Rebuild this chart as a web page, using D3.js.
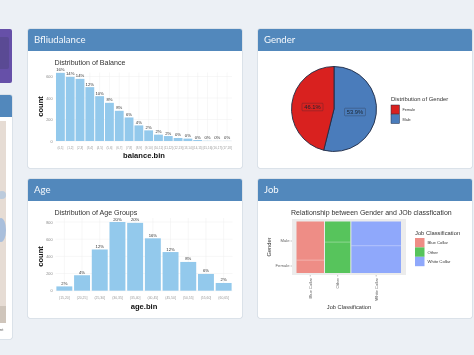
<!DOCTYPE html>
<html>
<head>
<meta charset="utf-8">
<script src="https://cdn.jsdelivr.net/npm/d3@7"></script>
<style>
    html, body { margin: 0; padding: 0; background: #ecf0f5; overflow: hidden; }
    svg { display: block; filter: blur(0.35px); }
    text { font-family: "Liberation Sans", sans-serif; }
    .panel-title { font-family: Lato, sans-serif; fill: #f4f8fc; font-size: 9.6px; }
    .grid line { stroke: #eeeeee; stroke-width: 0.5; }
</style>
</head>
<body>
<svg id="page" width="474" height="355"></svg>
<script>
var width = 474,
    height = 355;

// Balance chart
const balance_bins = ["(0,1]", "(1,2]", "(2,3]", "(3,4]", "(4,5]", "(5,6]", "(6,7]", "(7,8]", "(8,9]", "(9,10]", "(10,11]", "(11,12]", "(12,13]", "(13,14]", "(14,15]", "(15,16]", "(16,17]", "(17,18]"];
const balance_counts = [634, 597, 578, 501, 417, 355, 281, 219, 145, 99, 59, 46, 28, 22, 9, 2, 1, 1];
const balance_labels = ["16%", "14%", "14%", "12%", "10%", "8%", "8%", "6%", "4%", "2%", "2%", "2%", "0%", "0%", "0%", "0%", "0%", "0%"];
const balance_ticks = [0, 200, 400, 600];

// Age chart
const age_bins = ["(15,20]", "(20,25]", "(25,30]", "(30,35]", "(35,40]", "(40,45]", "(45,50]", "(50,55]", "(55,60]", "(60,65]"];
const age_counts = [50, 180, 480, 800, 790, 610, 450, 335, 195, 90];
const age_labels = ["2%", "4%", "12%", "20%", "20%", "16%", "12%", "8%", "6%", "2%"];
const age_ticks = [0, 200, 400, 600, 800];

// Gender pie
const gender_names = ["Female", "Male"];
const gender_shares = [46.1, 53.9];

// Job mosaic
const job_names = ["Blue Collar", "Other", "White Collar"];
const job_shares = [27, 25, 48];
const job_female = [0.25, 0.6, 0.53];
const mosaic_genders = ["Female", "Male"];

const svg = d3.select("#page");

function drawPanel(x, y, w, h, title) {
    const g = svg.append("g");
    g.append("rect").attr("x", x - 0.5).attr("y", y - 0.5).attr("width", w + 1).attr("height", h + 1)
        .attr("rx", 2).attr("fill", "#c9d3dd");
    g.append("rect").attr("x", x).attr("y", y).attr("width", w).attr("height", h)
        .attr("rx", 2).attr("fill", "#ffffff");
    g.append("path")
        .attr("d", `M${x},${y + 22}V${y + 2}Q${x},${y} ${x + 2},${y}H${x + w - 2}Q${x + w},${y} ${x + w},${y + 2}V${y + 22}Z`)
        .attr("fill", "#5288bc");
    if (title) {
        g.append("text").attr("class", "panel-title").attr("x", x + 6).attr("y", y + 14).text(title);
    }
}

// Sidebar pieces cut off by the left edge
svg.append("rect").attr("x", -4).attr("y", 29).attr("width", 16).attr("height", 54).attr("rx", 2).attr("fill", "#6650a8");
svg.append("rect").attr("x", -4).attr("y", 37).attr("width", 13).attr("height", 32).attr("rx", 2).attr("fill", "#5a4a94");
drawPanel(-4, 95, 16, 244, "");
svg.append("rect").attr("x", -4).attr("y", 121).attr("width", 10).attr("height", 202).attr("fill", "#e6dcd4");
svg.append("ellipse").attr("cx", 1).attr("cy", 230).attr("rx", 5).attr("ry", 12).attr("fill", "#a9bfdc");
svg.append("ellipse").attr("cx", 2).attr("cy", 195).attr("rx", 4).attr("ry", 4).attr("fill", "#bccbdc");
svg.append("rect").attr("x", -4).attr("y", 306).attr("width", 10).attr("height", 17).attr("fill", "#cfc5bb");
svg.append("text").attr("x", 0).attr("y", 331).attr("font-size", 4).attr("fill", "#555555").text("nt");

drawPanel(28, 29, 214, 139, "Bfliudalance");
drawPanel(258, 29, 214, 139, "Gender");
drawPanel(28, 179, 214, 139, "Age");
drawPanel(258, 179, 214, 139, "Job");

function drawHistogram(cfg) {
    const x = d3.scaleBand().domain(cfg.bins).range([cfg.left, cfg.right]).paddingInner(0.1).paddingOuter(0.05);
    const y = d3.scaleLinear().domain(cfg.domain).range([cfg.bottom, cfg.top]);
    const g = svg.append("g");

    const grid = g.append("g").attr("class", "grid");
    grid.selectAll(".h").data(cfg.ticks).join("line").attr("class", "h")
        .attr("x1", cfg.left).attr("x2", cfg.right)
        .attr("y1", function (d) { return y(d); }).attr("y2", function (d) { return y(d); });
    grid.selectAll(".v").data(cfg.bins).join("line").attr("class", "v")
        .attr("x1", function (d) { return x(d) + x.bandwidth() / 2; })
        .attr("x2", function (d) { return x(d) + x.bandwidth() / 2; })
        .attr("y1", cfg.top - 4).attr("y2", cfg.bottom);

    g.selectAll("rect").data(cfg.counts).join("rect")
        .attr("x", function (d, i) { return x(cfg.bins[i]); })
        .attr("y", function (d) { return y(d); })
        .attr("width", x.bandwidth())
        .attr("height", function (d) { return y(0) - y(d); })
        .attr("fill", "#93c9ec");

    g.selectAll(".pct").data(cfg.counts).join("text").attr("class", "pct")
        .attr("x", function (d, i) { return x(cfg.bins[i]) + x.bandwidth() / 2; })
        .attr("y", function (d) { return y(d) - 1.5; })
        .attr("text-anchor", "middle").attr("font-size", 4.2).attr("fill", "#333333")
        .text(function (d, i) { return cfg.labels[i]; });

    const axisY = d3.axisLeft(y).tickValues(cfg.ticks).tickSize(0).tickPadding(3);
    const ay = g.append("g").attr("transform", `translate(${cfg.left},0)`).call(axisY);
    ay.select(".domain").remove();
    ay.selectAll("text").attr("font-size", 3.8).attr("fill", "#888888").attr("font-family", "Liberation Sans");

    const axisX = d3.axisBottom(x).tickSize(0).tickPadding(cfg.xPad);
    const ax = g.append("g").attr("transform", `translate(0,${cfg.bottom})`).call(axisX);
    ax.select(".domain").remove();
    ax.selectAll("text").attr("font-size", cfg.xSize).attr("fill", "#999999").attr("font-family", "Liberation Sans");

    g.append("text").attr("x", cfg.titleX).attr("y", cfg.titleY).attr("font-size", 7.1).attr("fill", "#333333").text(cfg.title);
    g.append("text").attr("x", cfg.xLabelX).attr("y", cfg.xLabelY).attr("text-anchor", "middle")
        .attr("font-size", 7.6).attr("font-weight", "bold").attr("fill", "#111111").text(cfg.xLabel);
    g.append("text").attr("transform", `translate(43,${cfg.yLabelY}) rotate(-90)`).attr("text-anchor", "middle")
        .attr("font-size", 7.6).attr("font-weight", "bold").attr("fill", "#111111").text("count");
}

drawHistogram({
    bins: balance_bins, counts: balance_counts, labels: balance_labels, ticks: balance_ticks,
    domain: [0, 600], left: 55.5, right: 232, top: 76.5, bottom: 141,
    xPad: 6, xSize: 3,
    title: "Distribution of Balance", titleX: 54.5, titleY: 64.5,
    xLabel: "balance.bin", xLabelX: 144, xLabelY: 158, yLabelY: 106.5
});

drawHistogram({
    bins: age_bins, counts: age_counts, labels: age_labels, ticks: age_ticks,
    domain: [0, 800], left: 55.5, right: 232.5, top: 222, bottom: 290.7,
    xPad: 6, xSize: 3.4,
    title: "Distribution of Age Groups", titleX: 54.5, titleY: 214.5,
    xLabel: "age.bin", xLabelX: 144, xLabelY: 308.5, yLabelY: 256.5
});

// Pie
const pie = d3.pie().sort(null).value(function (d) { return d; });
// Male runs clockwise from 12 o'clock, Female fills the rest
const arcs = pie.startAngle(0).endAngle(2 * Math.PI)([gender_shares[1], gender_shares[0]]);
const arc = d3.arc().innerRadius(0).outerRadius(42.5);
const pie_g = svg.append("g").attr("transform", "translate(334,109)");
const pie_colors = ["#4a7cbb", "#d9211f"];
pie_g.selectAll("path").data(arcs).join("path")
    .attr("d", arc)
    .attr("fill", function (d, i) { return pie_colors[i]; })
    .attr("stroke", "#1f2a44").attr("stroke-width", 0.9);
const pie_label_pos = [[21, 3], [-21.5, -2]];
arcs.forEach(function (d, i) {
    const lg = pie_g.append("g").attr("transform", `translate(${pie_label_pos[i][0]},${pie_label_pos[i][1]})`);
    lg.append("rect").attr("x", -10.5).attr("y", -3.8).attr("width", 21).attr("height", 7.6).attr("rx", 0.8)
        .attr("fill", pie_colors[i]).attr("stroke", "#2a2a3a").attr("stroke-opacity", 0.6).attr("stroke-width", 0.5);
    lg.append("text").attr("y", 2.1).attr("text-anchor", "middle").attr("font-size", 5.8).attr("fill", "#1a2430")
        .text(d.value + "%");
});
// Pie legend
svg.append("text").attr("x", 391).attr("y", 101).attr("font-size", 5.9).attr("fill", "#333333").text("Distribution of Gender");
const pie_legend = svg.append("g").selectAll("g").data(gender_names).join("g")
    .attr("transform", function (d, i) { return `translate(391,${105 + i * 9.5})`; });
pie_legend.append("rect").attr("width", 8.5).attr("height", 9)
    .attr("fill", function (d, i) { return pie_colors[1 - i]; })
    .attr("stroke", "#1f2a44").attr("stroke-width", 0.5);
pie_legend.append("text").attr("x", 11.5).attr("y", 6).attr("font-size", 3.8).attr("fill", "#333333").text(function (d) { return d; });

// Mosaic
const job_colors = ["#ee8d86", "#57c45c", "#8fa8fb"];
const mosaic_left = 292, mosaic_right = 406, mosaic_top = 219, mosaic_bottom = 275;
const mx = d3.scaleLinear().domain([0, d3.sum(job_shares)]).range([296, 401.5]);
const my = d3.scaleLinear().domain([0, 1]).range([273, 221.5]);
const m_g = svg.append("g");
m_g.append("rect").attr("x", mosaic_left).attr("y", mosaic_top)
    .attr("width", mosaic_right - mosaic_left).attr("height", mosaic_bottom - mosaic_top).attr("fill", "#ececec");
const job_starts = d3.cumsum([0].concat(job_shares));
job_names.forEach(function (name, i) {
    const x0 = mx(job_starts[i]) + 0.5, x1 = mx(job_starts[i + 1]) - 0.5;
    m_g.append("rect").attr("x", x0).attr("y", my(1)).attr("width", x1 - x0).attr("height", my(0) - my(1)).attr("fill", job_colors[i]);
    m_g.append("line").attr("x1", x0).attr("x2", x1).attr("y1", my(job_female[i])).attr("y2", my(job_female[i]))
        .attr("stroke", "#ffffff").attr("stroke-opacity", 0.55).attr("stroke-width", 0.6);
    const cx = (x0 + x1) / 2;
    m_g.append("line").attr("x1", cx).attr("x2", cx).attr("y1", mosaic_bottom).attr("y2", mosaic_bottom + 1.5).attr("stroke", "#666666").attr("stroke-width", 0.4);
    m_g.append("text").attr("transform", `translate(${cx + 1.4},${mosaic_bottom + 3}) rotate(-90)`)
        .attr("text-anchor", "end").attr("font-size", 4.2).attr("fill", "#666666").text(name);
});
// Gender ticks sit mid way in the usual female/male split
const gender_y = d3.scalePoint().domain(mosaic_genders).range([266, 241]);
mosaic_genders.forEach(function (name) {
    m_g.append("line").attr("x1", mosaic_left - 1.5).attr("x2", mosaic_left).attr("y1", gender_y(name)).attr("y2", gender_y(name)).attr("stroke", "#666666").attr("stroke-width", 0.4);
    m_g.append("text").attr("x", mosaic_left - 2.5).attr("y", gender_y(name) + 1.4).attr("text-anchor", "end").attr("font-size", 4.2).attr("fill", "#666666").text(name);
});
svg.append("text").attr("x", 291).attr("y", 214.5).attr("font-size", 7).attr("fill", "#333333").text("Relationship between Gender and JOb classfication");
svg.append("text").attr("x", 349).attr("y", 308.5).attr("text-anchor", "middle").attr("font-size", 5.7).attr("fill", "#333333").text("Job Classification");
svg.append("text").attr("transform", "translate(271,247) rotate(-90)").attr("text-anchor", "middle").attr("font-size", 5.7).attr("fill", "#333333").text("Gender");
svg.append("text").attr("x", 415).attr("y", 234.5).attr("font-size", 5.8).attr("fill", "#333333").text("Job Classification");
const job_legend = svg.append("g").selectAll("g").data(job_names).join("g")
    .attr("transform", function (d, i) { return `translate(415,${238 + i * 9.4})`; });
job_legend.append("rect").attr("width", 9.5).attr("height", 9.4).attr("fill", function (d, i) { return job_colors[i]; });
job_legend.append("text").attr("x", 12.5).attr("y", 6.2).attr("font-size", 4.2).attr("fill", "#333333").text(function (d) { return d; });
</script>
</body>
</html>
